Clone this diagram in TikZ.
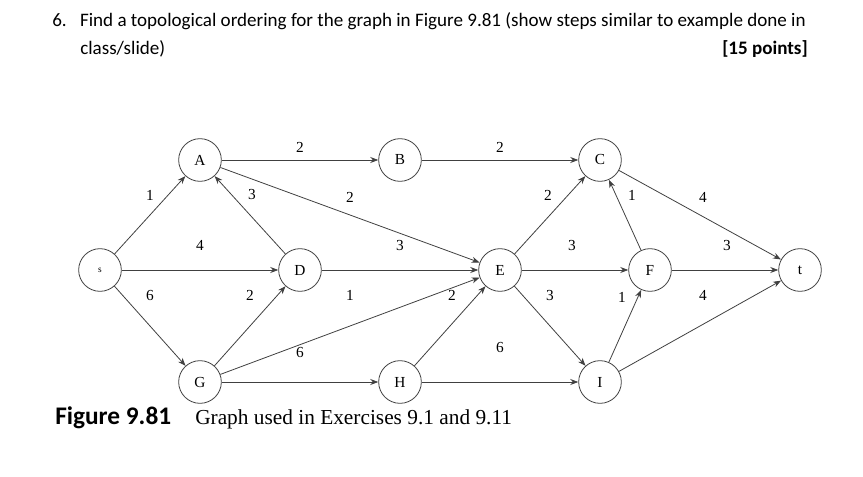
\documentclass[tikz,border=0pt]{standalone}
\usepackage{fontspec}
\setmainfont{Liberation Serif}
\newfontfamily\calib{Carlito}
\usetikzlibrary{arrows.meta}
\begin{document}
\begin{tikzpicture}[x=0.75pt,y=-0.75pt,
  v/.style={circle,draw=black!75,line width=0.6pt,minimum size=32pt,inner sep=0pt,font=\fontsize{11.5}{13}\selectfont},
  e/.style={draw=black!75,line width=0.6pt,-{Stealth[length=6pt,width=4.5pt]}},
  w/.style={font=\fontsize{11.5}{13}\selectfont,inner sep=0pt}]
\useasboundingbox (0,0) rectangle (863,477);
\node[anchor=base west,font=\calib\fontsize{14.3}{16}\selectfont,inner sep=0pt] (t1) at (52,27) {6.\hspace{10pt}Find a topological ordering for the graph in Figure 9.81 (show steps similar to example done in};
\node[anchor=base west,font=\calib\fontsize{14.3}{16}\selectfont,inner sep=0pt] (t2) at (80,55) {class/slide)};
\node[anchor=base east,font=\calib\bfseries\fontsize{14.3}{16}\selectfont,inner sep=0pt] (t3) at (808,55) {[15 points]};
\node[v] (s) at (100,270) {\scriptsize s};
\node[v] (A) at (200,160) {A};
\node[v] (B) at (400,160) {B};
\node[v] (C) at (600,160) {C};
\node[v] (D) at (300,270) {D};
\node[v] (E) at (500,270) {E};
\node[v] (F) at (650,270) {F};
\node[v] (t) at (800,270) {t};
\node[v] (G) at (200,382) {G};
\node[v] (H) at (400,382) {H};
\node[v] (I) at (600,382) {I};
\foreach \a/\b in {s/A,s/D,s/G,A/B,A/E,D/A,D/E,G/D,G/E,G/H,H/E,H/I,B/C,E/C,E/F,E/I,I/F,F/C,C/t,F/t,I/t}
  \draw[e] (\a) -- (\b);
\foreach \x/\y/\l [count=\i] in {150/195/1,252/195/3,300/147/2,350/197/2,500/147/2,548/195/2,632/195/1,703/197/4,200/245/4,400/245/3,572/245/3,727/245/3,150/295/6,250/295/2,350/295/1,452/295/2,550/295/3,622/297/1,703/295/4,300/352/6,500/347/6}
  \node[w] (L\i) at (\x,\y) {\l};
\node[anchor=base west,inner sep=0pt,font=\calib\bfseries\fontsize{19}{21}\selectfont] (cap1) at (55,424) {Figure 9.81};
\node[anchor=base west,inner sep=0pt,font=\fontsize{16}{18}\selectfont] (cap2) at (195,424) {Graph used in Exercises 9.1 and 9.11};
\end{tikzpicture}
\end{document}
